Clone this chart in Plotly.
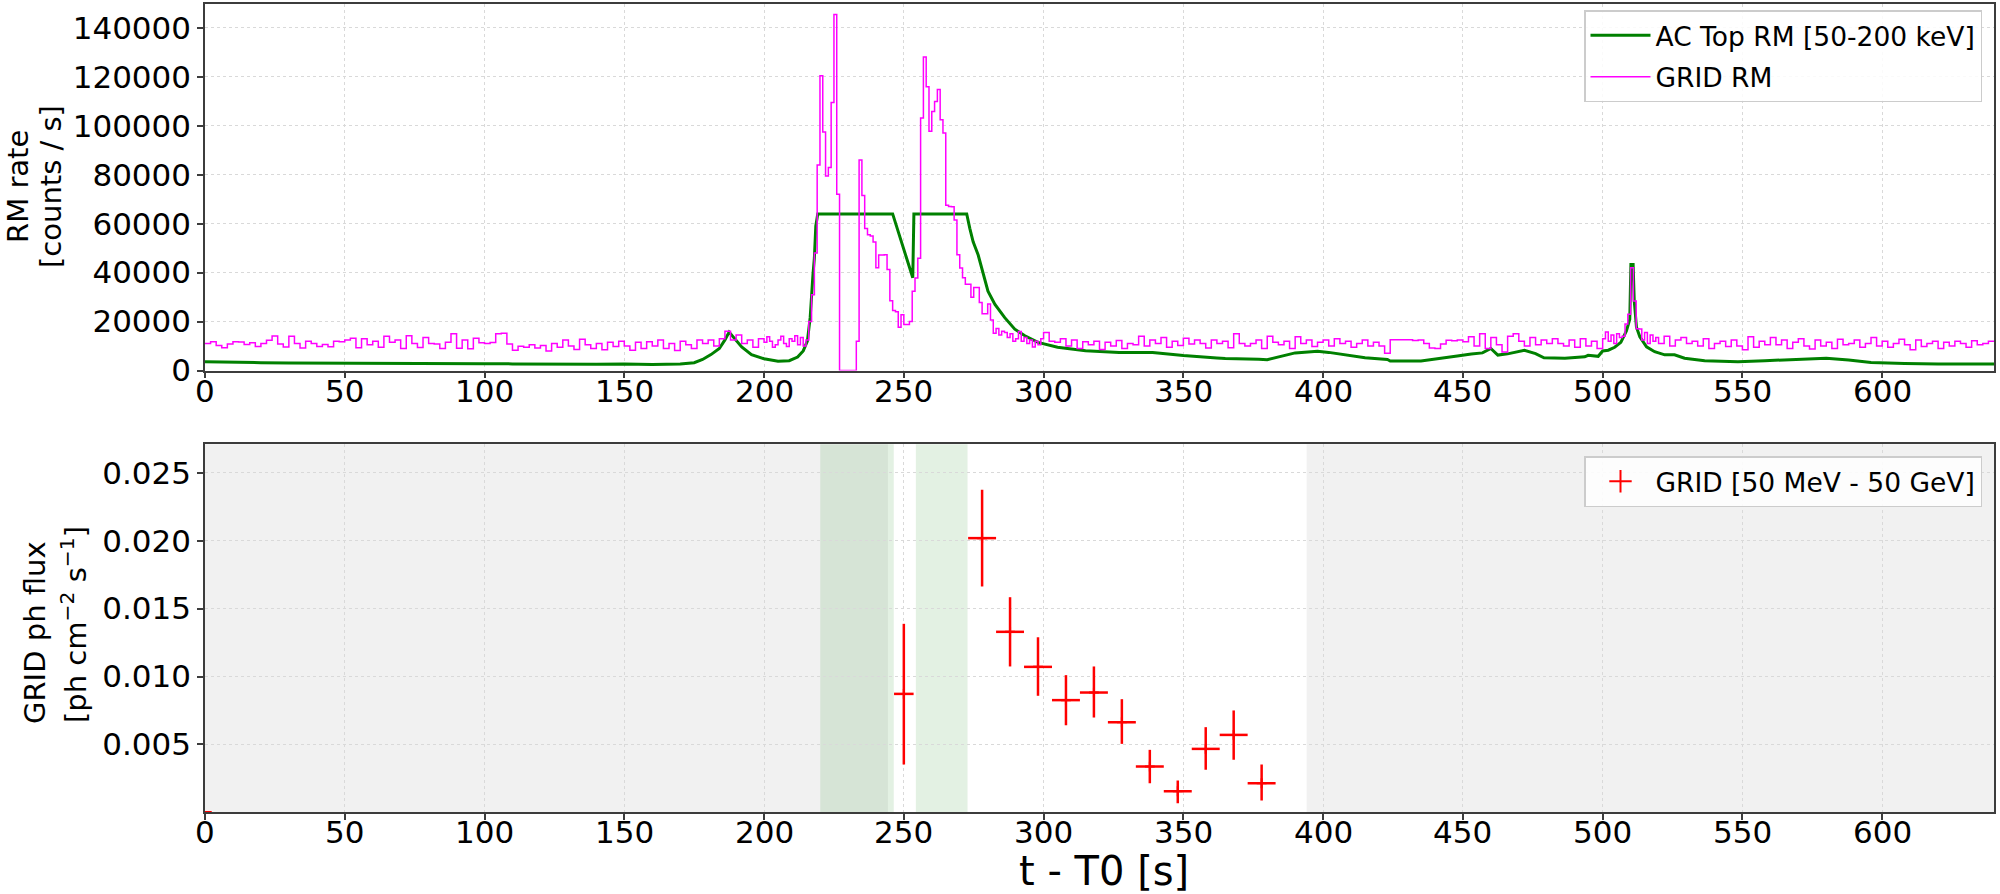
import plotly.graph_objects as go

# ---------------- Top panel data ----------------
# AC Top ratemeter [50-200 keV]  (time [s], rate [counts/s])
ac_time = [0, 10, 20, 30, 40, 50, 60, 70, 80, 90, 100, 110, 120, 130, 140, 150, 160, 170,
           175, 178, 181, 184, 186, 187.5, 189.5, 192, 195.5, 200, 205, 209, 212, 214,
           215.5, 216.5, 217.5, 218, 218.5, 219.2, 246, 247.2, 248.4, 249.6, 250.8, 252,
           253.2, 253.6, 272.5, 273.6, 274.8, 276.6, 278.4, 280.1, 282.6, 286.1, 289.7,
           293.3, 298, 305, 315, 327, 339, 350, 362, 365, 377, 380, 390, 398, 402, 408,
           415, 423, 424, 435, 441, 448, 453, 457, 460, 462.5, 466, 472, 476, 479, 486.5,
           493.6, 494.8, 498.4, 500, 502, 504.3, 506.5, 508.5, 509.7, 510.1, 510.9, 511.3,
           512.1, 513.3, 515.7, 518.6, 522.2, 525.7, 529.3, 536.5, 548.4, 558, 570, 580,
           588, 596, 608, 620, 640]
ac_rate = [3600, 3300, 3200, 3100, 3100, 3000, 3000, 3100, 2800, 2900, 2800, 2700, 2600, 2700,
           2600, 2700, 2500, 2700, 3200, 4500, 6500, 9000, 12500, 15700, 12900, 9600, 6500,
           4800, 3800, 4000, 5500, 8000, 12000, 21700, 39300, 46000, 59000, 64000, 64000,
           59500, 55400, 51400, 46000, 41900, 37900, 64000, 64000, 58100, 52600, 47200,
           39100, 32400, 27000, 21600, 16900, 14200, 11500, 9500, 8100, 7400, 7400, 6100,
           5100, 4900, 4600, 4400, 7200, 7900, 7400, 6300, 5200, 4500, 3900, 3900, 4700,
           5900, 6700, 7200, 9000, 6300, 6800, 8300, 6900, 5200, 5000, 5600, 6200, 5800,
           8000, 8300, 9500, 11500, 16200, 20900, 43300, 43300, 28400, 17700, 13800, 9700,
           7700, 6400, 6400, 5000, 4000, 3600, 4000, 4500, 5000, 4300, 3300, 2900, 2700, 2700]

# GRID ratemeter, given per segment: (segment start [s], bin width [s], rates)
grid_rm_a = [11000, 11700, 10200, 9300, 10800, 11700, 11600, 10600, 11300, 9800,
             11000, 12400, 14100, 10800, 9600, 14000, 11000, 9200, 12000, 11000,
             9800, 10600, 9700, 12000, 11800, 12500, 13200, 9300, 13000, 10500,
             12000, 9500, 14000, 11500, 12500, 9000, 14200, 11000, 9400, 13500,
             11000, 10800, 9000, 11500, 15000, 9100, 12500, 8900, 13200, 11300,
             11000, 11400, 15000, 15200, 10800, 8300, 9900, 9500, 10500, 9200,
             10200, 8000, 11000, 9500, 12500, 10000, 8600, 12800, 10500, 9000,
             11000, 8500, 11500, 9800, 12000, 10000, 8300, 11500, 9000, 11800,
             10000, 12500, 9000, 11000, 8200, 12000, 10500, 9000, 12500, 11000,
             12500, 10000, 13000, 16000, 12500, 14500, 11000, 12500, 9500, 13000]
grid_rm_b = [11500, 13800, 12000, 9500, 10500, 12500, 14000, 11000, 9800, 13000,
             12000, 14200, 10500, 13500, 10000, 12500, 20000, 31000, 48000, 84000,
             120500, 97500, 79500, 83000, 109500, 145500, 72000, 0, 0, 0,
             0, 0, 0, 12000, 86000, 71500, 58000, 55500, 55000, 52500,
             42000, 47200, 47200, 47300, 41300, 28500, 24500, 24000, 17700, 22800,
             18800, 18800, 20000, 32400, 37800, 45900, 103200, 128100, 116000, 97800,
             105900, 109900, 114900, 102500, 97100, 67500, 67000, 66900, 61500, 47300,
             41900, 37900, 35300, 35300, 29900, 33900, 33900, 27800, 23200, 23200,
             27200, 20600, 15200, 17200, 14500, 16000, 15500, 13500, 15000, 12000,
             13000, 15900, 12000, 13500, 11000, 12500, 9600, 12000, 10500, 13000]
grid_rm_c = [15500, 12000, 11500, 13000, 10000, 12500, 9000, 11800, 10500, 12000,
             8600, 11500, 10000, 12300, 9000, 11000, 10500, 14000, 10000, 12500,
             11000, 13500, 9500, 12000, 10200, 13200, 10800, 12500, 11000, 9200,
             12500, 11000, 12000, 9300, 15000, 11000, 10000, 11000, 12500, 9000,
             14000, 11500, 10500, 12000, 9000, 13800, 11000, 12500, 9800, 11500,
             12500, 10000, 13000, 11000, 12000, 9500, 11000, 12500, 10000, 11500,
             10000, 7000, 12600, 12600, 12600, 12600, 12300, 12500, 11000, 9200,
             9000, 10800, 12400, 12200, 12500, 11800, 13800, 10000, 15000, 9000,
             13500, 10500, 7600, 14000, 15000, 12000, 10000, 13500, 10500, 12500,
             11000, 13000, 11000, 10000, 12500, 9500, 13000, 10000, 12000, 9000]
grid_rm_d = [13000, 15700, 12000, 14500, 11000, 15000, 13500, 14000, 19000, 23000,
             42000, 28400, 17100, 17000, 12500, 15500, 11000, 14500, 12000, 13500]
grid_rm_e = [11000, 14000, 10000, 12500, 13500, 11000, 12000, 10000, 13000, 9000,
             11000, 12000, 9800, 12500, 10000, 8500, 13800, 9500, 12000, 10500,
             13500, 10500, 12500, 9000, 11500, 13000, 10000, 8800, 12500, 10000,
             11500, 9000, 12800, 10500, 11000, 12500, 9500, 11000, 13500, 10000,
             12000, 9500, 11000, 12800, 10500, 8500, 12500, 9800, 11000, 12000,
             9000, 11500, 10000, 12000, 11000, 9500, 12200, 10500, 11000, 12000]
grid_segments = [(0, 2, grid_rm_a), (200, 1, grid_rm_b), (300, 2, grid_rm_c),
                 (500, 1, grid_rm_d), (520, 2, grid_rm_e)]

# ---------------- Bottom panel data ----------------
flux_time = [250, 278, 288, 298, 308, 318, 328, 338, 348, 358, 368, 378]
flux_time_err = [3.5, 5, 5, 5, 5, 5, 5, 5, 5, 5, 5, 5]
flux = [0.00872, 0.02019, 0.01329, 0.01071, 0.00826, 0.00882, 0.00663, 0.00337,
        0.00155, 0.00467, 0.00570, 0.00214]
flux_err_hi = [0.00516, 0.00356, 0.00255, 0.00218, 0.00184, 0.00192, 0.00170, 0.00123,
               0.00079, 0.00160, 0.00180, 0.00138]
flux_err_lo = [0.00520, 0.00356, 0.00255, 0.00213, 0.00185, 0.00184, 0.00159, 0.00123,
               0.00088, 0.00154, 0.00183, 0.00127]

unobservable_intervals = [(0, 244.3), (394.1, 640)]
saturation_intervals = [(220.1, 246.4), (254.3, 272.8)]

x_ticks = list(range(0, 601, 50))
rate_ticks = list(range(0, 140001, 20000))
flux_ticks = [0.005, 0.010, 0.015, 0.020, 0.025]
flux_tick_text = ["0.005", "0.010", "0.015", "0.020", "0.025"]

# ---------------- Build step series ----------------
grid_time, grid_rate = [], []
for start, width, vals in grid_segments:
    for i, v in enumerate(vals):
        grid_time.append(start + i * width)
        grid_rate.append(v)
grid_time.append(640)
grid_rate.append(grid_rate[-1])

# ---------------- Figure ----------------
W, H = 2000, 894
FONT = "DejaVu Sans"
x_dom = [205 / W, 1994 / W]
y1_dom = [1 - 370.5 / H, 1 - 3.5 / H]
y2_dom = [1 - 812.3 / H, 1 - 444.3 / H]

fig = go.Figure()
fig.add_trace(go.Scatter(x=ac_time, y=ac_rate, mode="lines", name="AC Top RM [50-200 keV]",
                         line=dict(color="#008000", width=3), xaxis="x", yaxis="y",
                         legend="legend", legendgroup="ac"))
fig.add_trace(go.Scatter(x=grid_time, y=grid_rate, mode="lines", name="GRID RM",
                         line=dict(color="#ff00ff", width=1.5, shape="hv"), xaxis="x",
                         yaxis="y", legend="legend", legendgroup="grid"))

fig.add_trace(go.Scatter(x=[0], y=[0], mode="markers", marker=dict(size=1, color="red"),
                         error_x=dict(type="data", array=[2.4], thickness=2.5, width=0,
                                      color="red"),
                         xaxis="x2", yaxis="y2", showlegend=False))
fig.add_trace(go.Scatter(x=flux_time, y=flux, mode="markers",
                         marker=dict(symbol="cross-thin", size=7, color="red",
                                     line=dict(width=2, color="red")),
                         error_y=dict(type="data", symmetric=False, array=flux_err_hi,
                                      arrayminus=flux_err_lo, thickness=2.5, width=0,
                                      color="red"),
                         error_x=dict(type="data", array=flux_time_err, thickness=2.5,
                                      width=0, color="red"),
                         xaxis="x2", yaxis="y2", showlegend=False))
fig.add_trace(go.Scatter(x=[None], y=[None], mode="markers", name="GRID [50 MeV - 50 GeV]",
                         marker=dict(symbol="cross-thin", size=16, color="red",
                                     line=dict(width=2, color="red")),
                         xaxis="x2", yaxis="y2", legend="legend2"))

shapes = []
for a, b in unobservable_intervals:
    shapes.append(dict(type="rect", xref="x2", yref="y2 domain", x0=a, x1=b, y0=0, y1=1,
                       fillcolor="#f1f1f1", line=dict(width=0), layer="below"))
for a, b in saturation_intervals:
    shapes.append(dict(type="rect", xref="x2", yref="y2 domain", x0=a, x1=b, y0=0, y1=1,
                       fillcolor="rgba(0,128,0,0.11)", line=dict(width=0), layer="below"))

TICK_SIZE = 31
TITLE_SIZE = 29
axis_common = dict(showline=True, mirror=True, linecolor="#3c3c3c", linewidth=1.5,
                   ticks="outside", ticklen=6, tickwidth=1.5, tickcolor="#3c3c3c",
                   showgrid=True, gridcolor="#d9d9d9", griddash="dot", gridwidth=1,
                   zeroline=False, automargin=False,
                   tickfont=dict(family=FONT, size=TICK_SIZE, color="black"))

annotations = []
# x tick labels drawn as text at each tick value (to match label spacing of reference)
for xref, ypix in (("x", 391), ("x2", 832)):
    for v in x_ticks:
        annotations.append(dict(text=str(v), x=v, xref=xref, y=1 - ypix / H, yref="paper",
                                showarrow=False, xanchor="center", yanchor="middle",
                                font=dict(family=FONT, size=TICK_SIZE, color="black")))

annotations += [
    dict(text="RM rate", x=18 / W, y=1 - 187 / H, xref="paper", yref="paper",
         textangle=-90, showarrow=False, xanchor="center", yanchor="middle",
         font=dict(family=FONT, size=TITLE_SIZE, color="black")),
    dict(text="[counts / s]", x=51 / W, y=1 - 187 / H, xref="paper", yref="paper",
         textangle=-90, showarrow=False, xanchor="center", yanchor="middle",
         font=dict(family=FONT, size=TITLE_SIZE, color="black")),
    dict(text="GRID ph flux", x=35 / W, y=1 - 633 / H, xref="paper", yref="paper",
         textangle=-90, showarrow=False, xanchor="center", yanchor="middle",
         font=dict(family=FONT, size=TITLE_SIZE, color="black")),
    dict(text="[ph cm<sup>\u22122</sup> s<sup>\u22121</sup>]", x=74 / W, y=1 - 625 / H,
         xref="paper", yref="paper", textangle=-90, showarrow=False,
         xanchor="center", yanchor="middle",
         font=dict(family=FONT, size=TITLE_SIZE, color="black")),
    dict(text="t - T0 [s]", x=1104 / W, y=1 - 871 / H, xref="paper", yref="paper",
         showarrow=False, xanchor="center", yanchor="middle",
         font=dict(family=FONT, size=40, color="black")),
]

fig.update_layout(
    width=W, height=H, autosize=False,
    margin=dict(l=0, r=0, t=0, b=0),
    paper_bgcolor="white", plot_bgcolor="white",
    font=dict(family=FONT, color="black"),
    xaxis=dict(domain=x_dom, anchor="y", range=[0, 640], tickvals=x_ticks,
               showticklabels=False, **axis_common),
    yaxis=dict(domain=y1_dom, anchor="x", range=[0, 150000], tickvals=rate_ticks,
               ticktext=[str(v) for v in rate_ticks], **axis_common),
    xaxis2=dict(domain=x_dom, anchor="y2", range=[0, 640], tickvals=x_ticks,
                showticklabels=False, **axis_common),
    yaxis2=dict(domain=y2_dom, anchor="x2", range=[0, 0.0271], tickvals=flux_ticks,
                ticktext=flux_tick_text, **axis_common),
    shapes=shapes,
    legend=dict(x=1982 / W, y=1 - 10 / H, xanchor="right", yanchor="top",
                bgcolor="rgba(255,255,255,0.85)", bordercolor="#cccccc", borderwidth=1.5,
                font=dict(family=FONT, size=26.5, color="black"), itemwidth=60,
                tracegroupgap=4),
    legend2=dict(x=1982 / W, y=1 - 456 / H, xanchor="right", yanchor="top",
                 bgcolor="rgba(255,255,255,0.85)", bordercolor="#cccccc", borderwidth=1.5,
                 font=dict(family=FONT, size=26.5, color="black"), itemwidth=60),
    annotations=annotations,
)

fig.write_html("out.html")
